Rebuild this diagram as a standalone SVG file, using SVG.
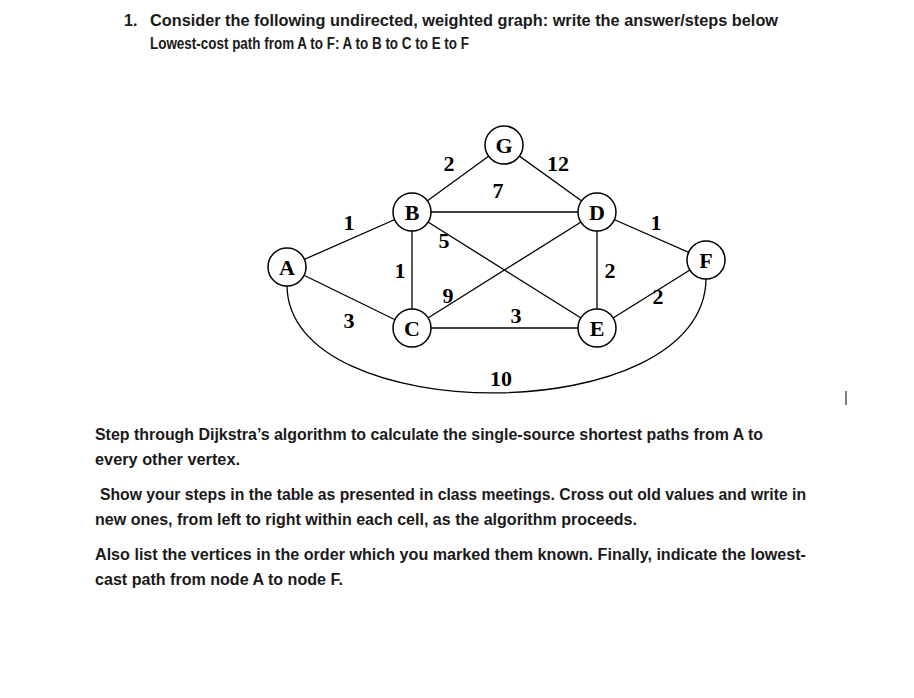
<svg xmlns="http://www.w3.org/2000/svg" width="914" height="698" viewBox="0 0 914 698">
<style>
.t{font-family:"Liberation Sans",Arial,sans-serif;font-weight:bold;font-size:16px;fill:#1a1a1a}
.n circle{fill:#fff;stroke:#000;stroke-width:1.5}
.n text,.w{font-family:"Liberation Serif","Times New Roman",serif;font-weight:bold;font-size:22px;text-anchor:middle;fill:#000}
.e line,.e path{stroke:#000;stroke-width:1.3;fill:none}
</style>
<rect width="914" height="698" fill="#fff"/>
<text class="t" x="124" y="26">1.</text>
<text class="t" x="150" y="26" textLength="628" lengthAdjust="spacingAndGlyphs">Consider the following undirected, weighted graph:  write the answer/steps below</text>
<text class="t" x="150" y="49" textLength="319" lengthAdjust="spacingAndGlyphs">Lowest-cost path from A to F: A to B to C to E to F</text>
<g class="e" id="edges">
<line x1="287" y1="267" x2="412" y2="212"/>
<line x1="287" y1="267" x2="412" y2="328"/>
<line x1="412" y1="212" x2="504" y2="145"/>
<line x1="504" y1="145" x2="597" y2="212"/>
<line x1="412" y1="212" x2="597" y2="212"/>
<line x1="412" y1="212" x2="412" y2="328"/>
<line x1="412" y1="212" x2="597" y2="328"/>
<line x1="412" y1="328" x2="597" y2="212"/>
<line x1="412" y1="328" x2="597" y2="328"/>
<line x1="597" y1="212" x2="597" y2="328"/>
<line x1="597" y1="212" x2="706" y2="260"/>
<line x1="597" y1="328" x2="706" y2="260"/>
<path d="M287 285 C287 430 706 430 706 278"/>
</g>
<g id="weights">
<text class="w" x="449" y="171">2</text>
<text class="w" x="558" y="171">12</text>
<text class="w" x="498" y="198">7</text>
<text class="w" x="349" y="230">1</text>
<text class="w" x="444" y="248">5</text>
<text class="w" x="400" y="278">1</text>
<text class="w" x="610" y="278">2</text>
<text class="w" x="448" y="303">9</text>
<text class="w" x="349" y="328">3</text>
<text class="w" x="516" y="323">3</text>
<text class="w" x="658" y="304">2</text>
<text class="w" x="656" y="230">1</text>
<text class="w" x="501" y="386">10</text>
</g>
<g class="n" id="node-G"><circle cx="504" cy="145" r="19"/><text x="504" y="153">G</text></g>
<g class="n" id="node-B"><circle cx="412" cy="212" r="19"/><text x="412" y="220">B</text></g>
<g class="n" id="node-D"><circle cx="597" cy="212" r="19"/><text x="597" y="220">D</text></g>
<g class="n" id="node-A"><circle cx="287" cy="267" r="19"/><text x="287" y="275">A</text></g>
<g class="n" id="node-F"><circle cx="706" cy="260" r="19"/><text x="706" y="268">F</text></g>
<g class="n" id="node-C"><circle cx="412" cy="328" r="19"/><text x="412" y="336">C</text></g>
<g class="n" id="node-E"><circle cx="597" cy="328" r="19"/><text x="597" y="336">E</text></g>
<line x1="846" y1="391" x2="846" y2="405" stroke="#000" stroke-width="1"/>
<text class="t" x="95" y="440" textLength="668" lengthAdjust="spacingAndGlyphs">Step through Dijkstra’s algorithm to calculate the single-source shortest paths from A to</text>
<text class="t" x="95" y="465" textLength="145" lengthAdjust="spacingAndGlyphs">every other vertex.</text>
<text class="t" x="100" y="500" textLength="706" lengthAdjust="spacingAndGlyphs">Show your steps in the table as presented in class meetings. Cross out old values and write in</text>
<text class="t" x="95" y="525" textLength="542" lengthAdjust="spacingAndGlyphs">new ones, from left to right within each cell, as the algorithm proceeds.</text>
<text class="t" x="95" y="560" textLength="711" lengthAdjust="spacingAndGlyphs">Also list the vertices in the order which you marked them known. Finally, indicate the lowest-</text>
<text class="t" x="95" y="585" textLength="248" lengthAdjust="spacingAndGlyphs">cast path from node A to node F.</text>
</svg>
